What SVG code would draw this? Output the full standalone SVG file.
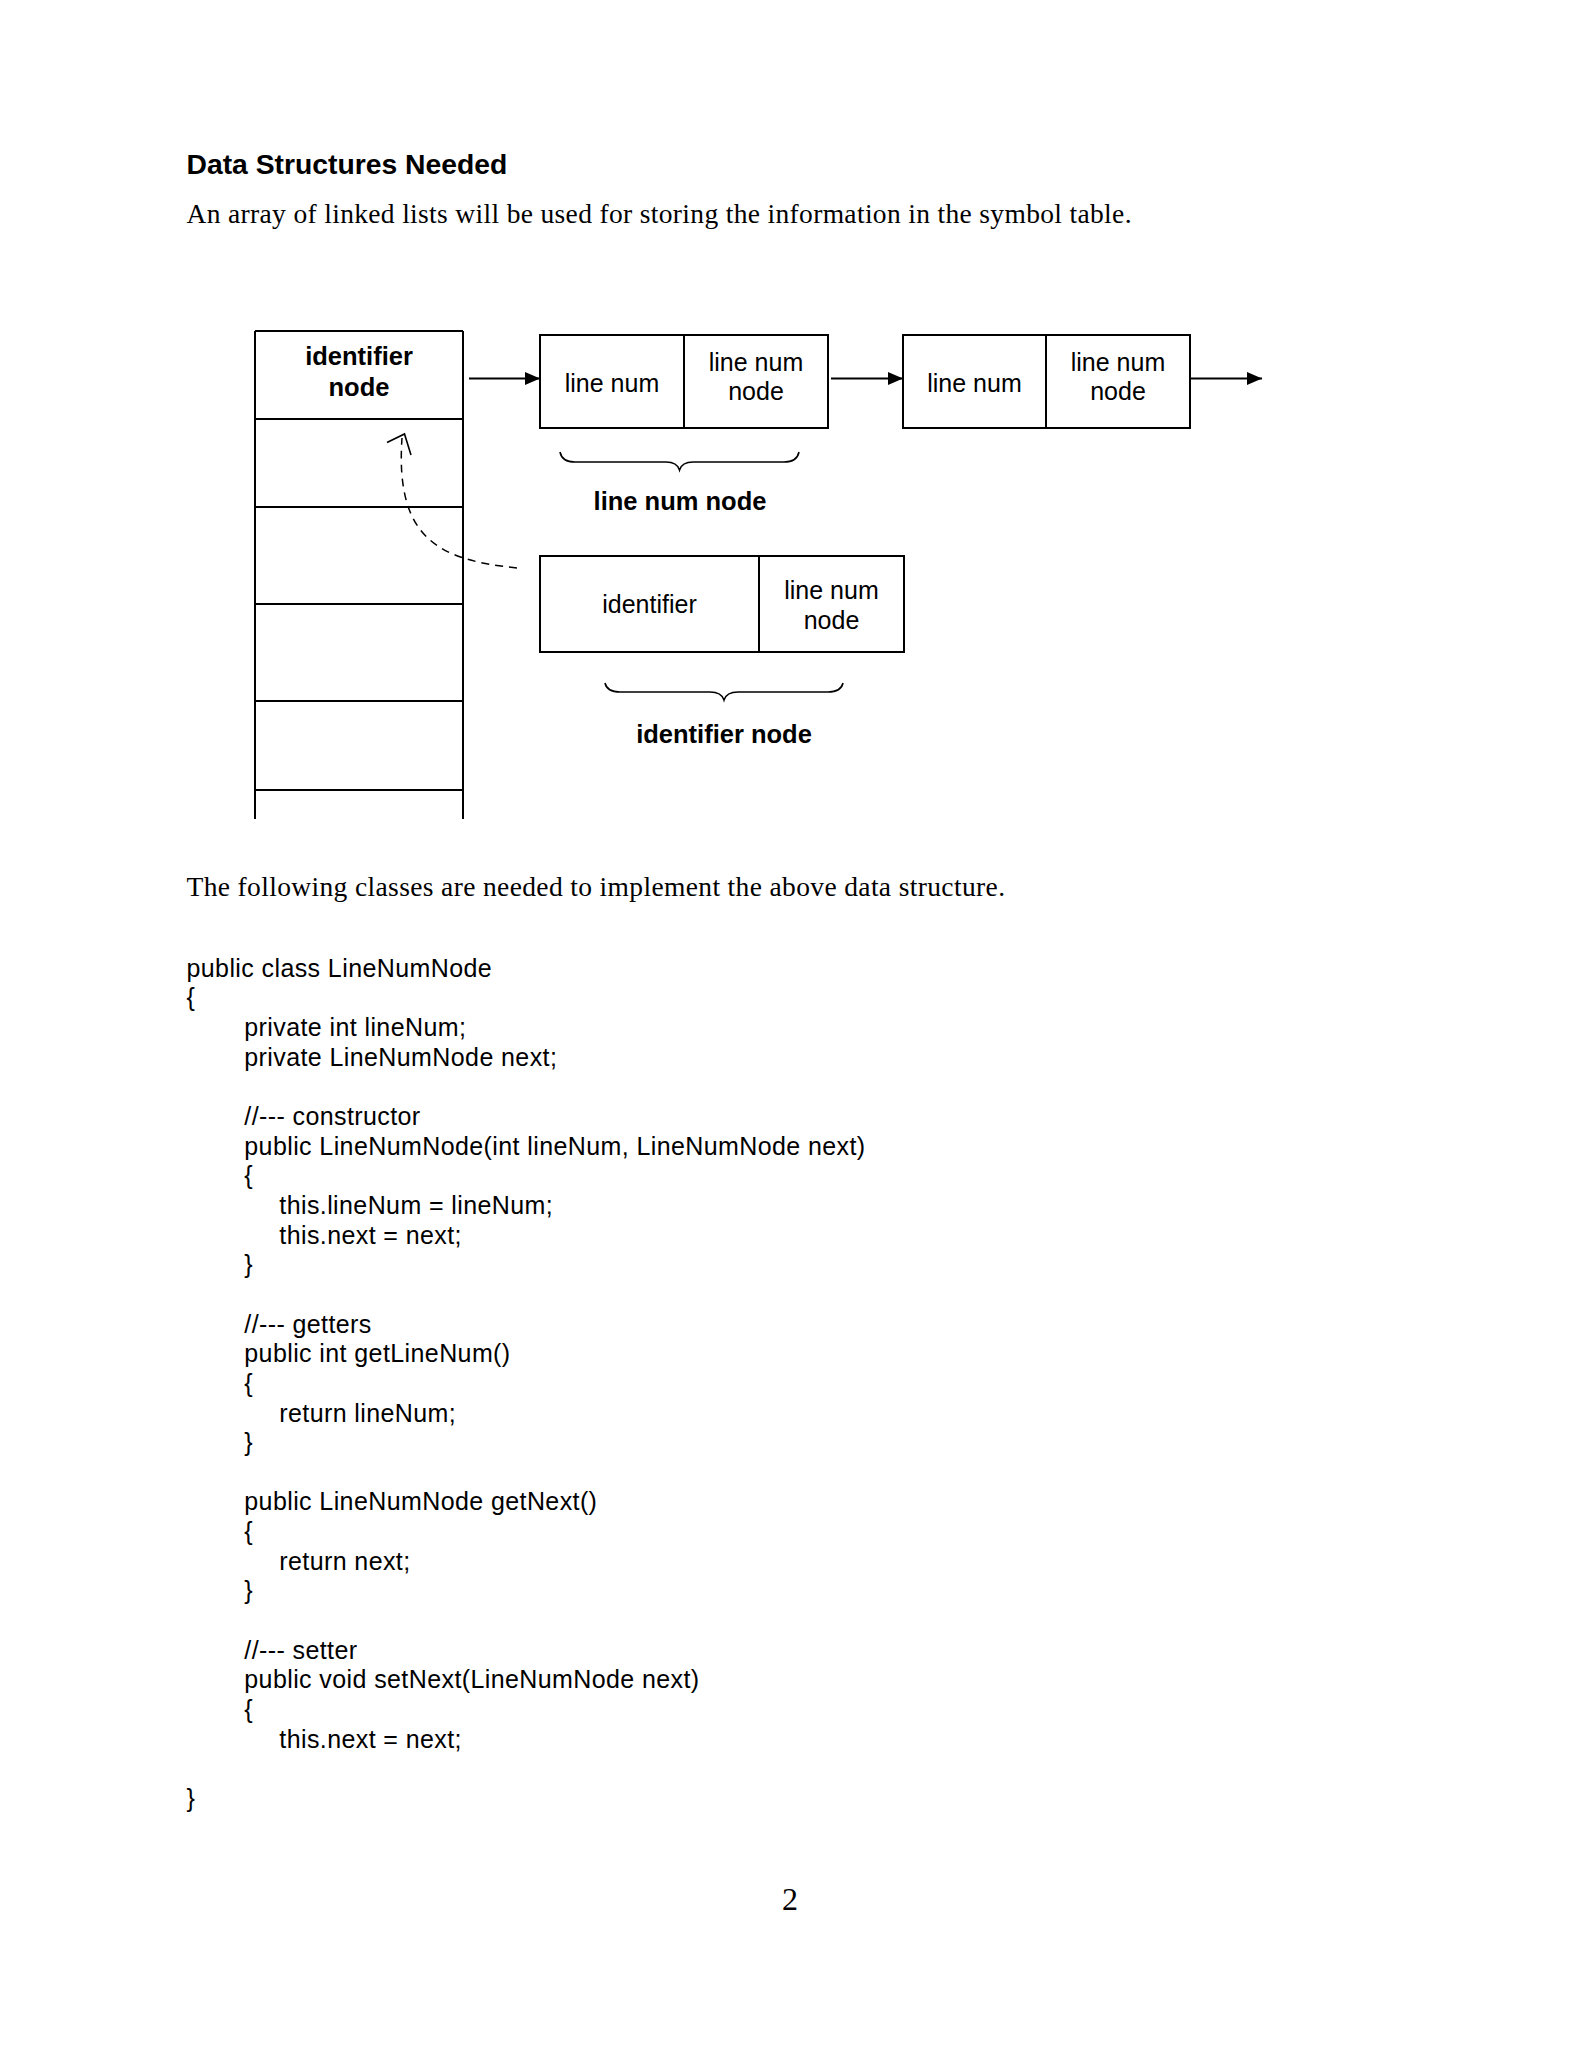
<svg xmlns="http://www.w3.org/2000/svg" width="1581" height="2046" viewBox="0 0 1581 2046">
<style>
.bg{fill:#ffffff}
.box{fill:#ffffff;stroke:#000;stroke-width:2}
.ln{stroke:#000;stroke-width:2;fill:none}
.conn{stroke:#000;stroke-width:2;fill:none}
.brace{stroke:#000;stroke-width:1.6;fill:none}
.dash{stroke:#000;stroke-width:1.5;fill:none;stroke-dasharray:8 6}
.t{font-family:"Liberation Sans",Arial,sans-serif;font-size:25px;fill:#000;text-anchor:middle}
.tb{font-family:"Liberation Sans",Arial,sans-serif;font-size:25.5px;font-weight:bold;fill:#000;text-anchor:middle}
.h{font-family:"Liberation Sans",Arial,sans-serif;font-size:28.3px;font-weight:bold;fill:#000}
.p{font-family:"Liberation Serif","Times New Roman",serif;font-size:27.5px;fill:#000}
.code{font-family:"Liberation Sans",Arial,sans-serif;font-size:25px;letter-spacing:0.4px;fill:#000}
</style>
<defs>
<marker id="arr" markerWidth="15" markerHeight="13" refX="15" refY="6.5" orient="auto" markerUnits="userSpaceOnUse">
<path d="M0,0 L15,6.5 L0,13 Z" fill="#000"/>
</marker>
</defs>
<rect class="bg" x="0" y="0" width="1581" height="2046"/>

<text class="h" x="186.5" y="174">Data Structures Needed</text>
<text class="p" x="186.5" y="222.5" textLength="945" lengthAdjust="spacing">An array of linked lists will be used for storing the information in the symbol table.</text>

<g id="array">
<path class="ln" d="M255,331 L463,331 M255,331 L255,819 M463,331 L463,819 M255,419 L463,419 M255,507 L463,507 M255,604 L463,604 M255,701 L463,701 M255,790 L463,790"/>
<text class="tb" x="359" y="365">identifier</text>
<text class="tb" x="359" y="396">node</text>
</g>

<g id="linenum-node-1">
<rect class="box" x="540" y="335" width="288" height="93"/>
<line class="ln" x1="684" y1="335" x2="684" y2="428"/>
<text class="t" x="612" y="391.5">line num</text>
<text class="t" x="756" y="370.5">line num</text>
<text class="t" x="756" y="400">node</text>
</g>

<g id="linenum-node-2">
<rect class="box" x="903" y="335" width="287" height="93"/>
<line class="ln" x1="1046" y1="335" x2="1046" y2="428"/>
<text class="t" x="974.5" y="391.5">line num</text>
<text class="t" x="1118" y="370.5">line num</text>
<text class="t" x="1118" y="400">node</text>
</g>

<g id="identifier-node">
<rect class="box" x="540" y="556" width="364" height="96"/>
<line class="ln" x1="759" y1="556" x2="759" y2="652"/>
<text class="t" x="649.5" y="613">identifier</text>
<text class="t" x="831.5" y="598.5">line num</text>
<text class="t" x="831.5" y="628.5">node</text>
</g>

<g id="label-linenum">
<path class="brace" d="M560,452 Q562,462 575,462 L666,462 Q677,462 679.5,470 Q682,462 693,462 L784,462 Q797,462 799,452"/>
<text class="tb" x="680" y="510">line num node</text>
</g>

<g id="label-identifier">
<path class="brace" d="M605,683 Q607,692 620,692 L710,692 Q721.5,692 724,700 Q726.5,692 738,692 L828,692 Q841,692 843,683"/>
<text class="tb" x="724" y="743">identifier node</text>
</g>

<g id="connectors">
<line class="conn" x1="469" y1="378.5" x2="540" y2="378.5" marker-end="url(#arr)"/>
<line class="conn" x1="831" y1="378.5" x2="903" y2="378.5" marker-end="url(#arr)"/>
<line class="conn" x1="1191" y1="378.5" x2="1262" y2="378.5" marker-end="url(#arr)"/>
<path class="dash" d="M517,568 C440,560 395,540 402,438"/>
<polyline class="ln" style="stroke-width:1.6" points="387,442.5 404.5,434 411,455"/>
</g>

<text class="p" x="186.5" y="896" textLength="818.5" lengthAdjust="spacing">The following classes are needed to implement the above data structure.</text>

<g id="code">
<text class="code" x="186.5" y="976.7">public class LineNumNode</text>
<text class="code" x="186.5" y="1006.4">{</text>
<text class="code" x="244.3" y="1036">private int lineNum;</text>
<text class="code" x="244.3" y="1065.7">private LineNumNode next;</text>
<text class="code" x="244.3" y="1125">//--- constructor</text>
<text class="code" x="244.3" y="1154.6">public LineNumNode(int lineNum, LineNumNode next)</text>
<text class="code" x="244.3" y="1184.3">{</text>
<text class="code" x="279.3" y="1213.9">this.lineNum = lineNum;</text>
<text class="code" x="279.3" y="1243.6">this.next = next;</text>
<text class="code" x="244.3" y="1273.2">}</text>
<text class="code" x="244.3" y="1332.5">//--- getters</text>
<text class="code" x="244.3" y="1362.2">public int getLineNum()</text>
<text class="code" x="244.3" y="1391.8">{</text>
<text class="code" x="279.3" y="1421.5">return lineNum;</text>
<text class="code" x="244.3" y="1451.1">}</text>
<text class="code" x="244.3" y="1510.4">public LineNumNode getNext()</text>
<text class="code" x="244.3" y="1540.1">{</text>
<text class="code" x="279.3" y="1569.7">return next;</text>
<text class="code" x="244.3" y="1599.4">}</text>
<text class="code" x="244.3" y="1658.7">//--- setter</text>
<text class="code" x="244.3" y="1688.3">public void setNext(LineNumNode next)</text>
<text class="code" x="244.3" y="1718">{</text>
<text class="code" x="279.3" y="1747.6">this.next = next;</text>
<text class="code" x="186.5" y="1806.9">}</text>
</g>

<text class="p" x="790" y="1910" style="font-size:32px;text-anchor:middle">2</text>
</svg>
